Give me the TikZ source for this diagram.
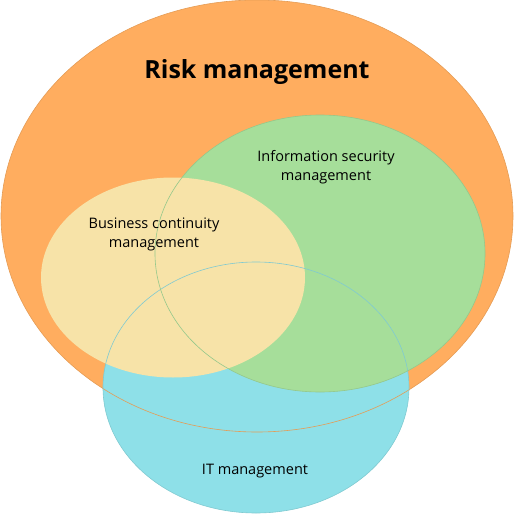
\documentclass[tikz,border=0pt]{standalone}
\usepackage{fontspec}
\setmainfont{Open Sans}
\definecolor{riskc}{HTML}{FFAD5F}
\definecolor{infoc}{HTML}{A6DE9A}
\definecolor{bcmc}{HTML}{F7E3A8}
\definecolor{itc}{HTML}{8EE0E8}
\begin{document}
\begin{tikzpicture}[x=1pt,y=-1pt,
    lbl/.style={align=center,font=\fontsize{14.5}{18.5}\selectfont},
    rim/.style={line width=0.6pt}]
  \useasboundingbox (0,0) rectangle (514,516);
  % fills first
  \fill[riskc] (257,216) ellipse [x radius=256, y radius=216];
  \fill[itc] (256,387.5) ellipse [x radius=153, y radius=125.5];
  \fill[infoc] (320,253.5) ellipse [x radius=165, y radius=138.5];
  \fill[bcmc] (173,277.5) ellipse [x radius=132, y radius=100];
  % outlines on top
  \begin{scope}[rim]
    \draw[riskc!90!black] (257,216) ellipse [x radius=256, y radius=216];
    \draw[itc!90!black] (256,387.5) ellipse [x radius=153, y radius=125.5];
    \draw[infoc!90!black] (320,253.5) ellipse [x radius=165, y radius=138.5];
  \end{scope}
  \node[anchor=base] (risk) at (257,79) {\fontsize{25}{30}\selectfont\bfseries Risk management};
  \node[lbl] (info) at (326,167) {Information security\\management};
  \node[lbl] (bcm) at (154,234.5) {Business continuity\\management};
  \node[lbl] (it) at (255,471) {IT management};
\end{tikzpicture}
\end{document}
